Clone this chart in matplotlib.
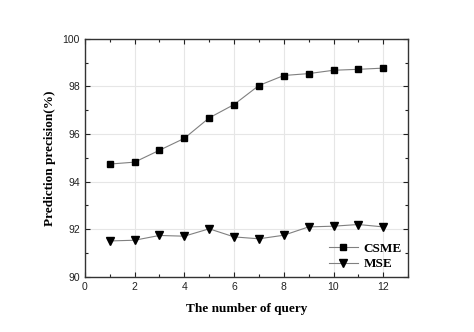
import numpy as np
import matplotlib
matplotlib.use('Agg')
import matplotlib.pyplot as plt
from matplotlib.ticker import MultipleLocator

queries = [1, 2, 3, 4, 5, 6, 7, 8, 9, 10, 11, 12]
csme = [94.74, 94.82, 95.32, 95.82, 96.68, 97.24, 98.04, 98.46, 98.54, 98.68, 98.72, 98.77]
mse = [91.51, 91.54, 91.74, 91.71, 92.02, 91.68, 91.60, 91.75, 92.10, 92.13, 92.20, 92.10]

fig = plt.figure(figsize=(4.74, 3.32), dpi=100)
ax = fig.add_axes([0.179, 0.166, 0.682, 0.717])

ax.plot(queries, csme, color='#808080', linewidth=0.8, marker='s', markersize=5,
        markerfacecolor='black', markeredgecolor='black', label='CSME')
ax.plot(queries, mse, color='#808080', linewidth=0.8, marker='v', markersize=6,
        markerfacecolor='black', markeredgecolor='black', label='MSE')

ax.set_xlim(0, 13)
ax.set_ylim(90, 100)
ax.xaxis.set_major_locator(MultipleLocator(2))
ax.xaxis.set_minor_locator(MultipleLocator(1))
ax.yaxis.set_major_locator(MultipleLocator(2))
ax.yaxis.set_minor_locator(MultipleLocator(1))
ax.grid(True, which='major', color='#e6e6e6', linewidth=0.8)
ax.set_axisbelow(True)

ax.tick_params(which='both', direction='in', top=True, right=True,
               labelsize=7.5, width=0.8, labelfontfamily='Liberation Sans', colors='#222222')
ax.tick_params(which='major', length=3.5)
ax.tick_params(which='minor', length=2)
for s in ax.spines.values():
    s.set_linewidth(1.0)
    s.set_color('#333333')

ax.set_xlabel('The number of query', fontsize=9.5, fontweight='bold',
              family='Liberation Serif', labelpad=8)
ax.set_ylabel('Prediction precision(%)', fontsize=9.5, fontweight='bold',
              family='Liberation Serif', labelpad=5)

ax.legend(loc='lower right', frameon=False, prop={'family': 'Liberation Serif', 'weight': 'bold', 'size': 9.5},
          handlelength=2.2, borderaxespad=0.1, labelspacing=0.25, handletextpad=0.4)

plt.savefig('out.png', dpi=100)
